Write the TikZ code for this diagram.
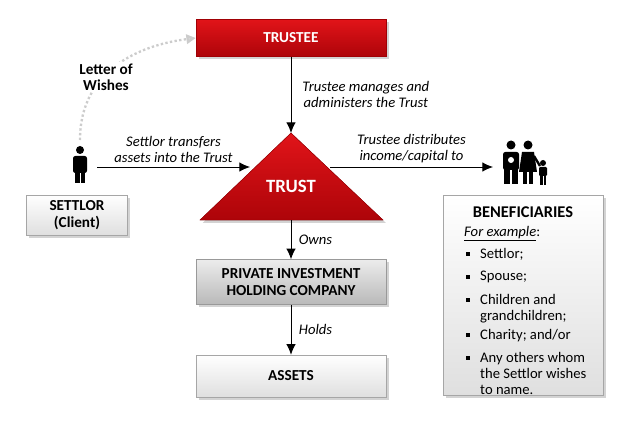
\documentclass[tikz,border=0pt]{standalone}
\usepackage{fontspec}
\setmainfont{Carlito}
\usetikzlibrary{shadows,arrows.meta}
\definecolor{trustred}{RGB}{225,20,25}
\definecolor{darkred}{RGB}{160,0,5}
\begin{document}
\begin{tikzpicture}[x=0.03cm,y=-0.03cm,
  redbox/.style={draw=darkred, top color=trustred, bottom color=darkred!80!trustred, drop shadow={opacity=0.35}},
  greybox/.style={draw=gray!70, top color=white, bottom color=gray!25, drop shadow={opacity=0.35}},
  link/.style={-{Latex[length=9pt,width=8pt]}, thick},
  lbl/.style={font=\fontsize{12.5}{13.5}\selectfont\itshape, align=center},
  title/.style={font=\fontsize{13}{14}\selectfont\bfseries, align=center},
  item/.style={font=\fontsize{12.5}{13.5}\selectfont, anchor=north west, align=left, inner sep=0pt}]
  \useasboundingbox (0,0) rectangle (624,427);
  % boxes
  \node[redbox, minimum width=190*0.03cm, minimum height=37*0.03cm, title, text=white] (trustee) at (291,38) {TRUSTEE};
  \filldraw[draw=darkred, top color=trustred, bottom color=darkred!80!trustred, drop shadow={opacity=0.35}] (291,133) -- (383,220) -- (200,220) -- cycle;
  \node[title, text=white, font=\fontsize{16}{17}\selectfont\bfseries] (trust) at (291,186) {TRUST};
  \coordinate (trusttop) at (291,133);
  \coordinate (trustbot) at (291,220);
  \coordinate (trustleft) at (250,167);
  \coordinate (trustright) at (330,167);
  \node[greybox, minimum width=101*0.03cm, minimum height=40*0.03cm, title] (settlor) at (77,215) {SETTLOR\\(Client)};
  \node[draw=gray!80, top color=gray!15, bottom color=gray!55, drop shadow={opacity=0.35}, minimum width=190*0.03cm, minimum height=45*0.03cm, title] (pihc) at (291,282) {PRIVATE INVESTMENT\\HOLDING COMPANY};
  \node[greybox, minimum width=190*0.03cm, minimum height=42*0.03cm, title] (assets) at (291,376) {ASSETS};
  \node[greybox, minimum width=160*0.03cm, minimum height=200*0.03cm] (benef) at (523,295) {};
  % beneficiaries text
  \node[title, font=\fontsize{14}{15}\selectfont\bfseries] (btitle) at (523,212) {BENEFICIARIES};
  \node[item] (ex) at (464,226) {\underline{\itshape For example}:};
  \foreach \y/\t in {248/{Settlor;}, 271/{Spouse;}, 294/{Children and\\grandchildren;}, 329/{Charity; and/or}, 352/{Any others whom\\the Settlor wishes\\to name.}} {
    \fill (466,\y+4) rectangle (470,\y+8);
    \node[item] at (480,\y) {\t};
  }
  % settlor icon
  \fill (80,150) circle (4);
  \fill[rounded corners=2pt] (73,156) rectangle (87,173);
  \fill (75,170) rectangle (79.5,183);
  \fill (80.5,170) rectangle (85,183);
  \coordinate (settlorico) at (97,167);
  \coordinate (lowstart) at (80,140);
  % family icon
  \fill (511,145) circle (4.5);
  \fill[rounded corners=2pt] (503,152) rectangle (519,170);
  \fill (504,168) rectangle (510,184);
  \fill (512,168) rectangle (518,184);
  \fill[white] (511,160) circle (3);
  \fill (528,145) circle (4.5);
  \fill (522,152) -- (534,152) -- (537,172) -- (519,172) -- cycle;
  \fill (523,170) rectangle (527,184);
  \fill (529,170) rectangle (533,184);
  \draw[line width=2pt] (534,156) -- (540,166);
  \fill (543,163) circle (3);
  \fill[rounded corners=1pt] (539,167) rectangle (547,176);
  \fill (540,175) rectangle (542.5,185);
  \fill (543.5,175) rectangle (546,185);
  \coordinate (family) at (493,167);
  % connectors
  \draw[link] (trustee) -- (trusttop) node[lbl, midway, anchor=west, xshift=6pt] {Trustee manages and\\administers the Trust};
  \draw[link] (settlorico) -- (trustleft) node[lbl, midway, above] {Settlor transfers\\assets into the Trust};
  \draw[link] (trustright) -- (family) node[lbl, midway, above] {Trustee distributes\\income/capital to};
  \draw[link] (trustbot) -- (pihc) node[lbl, midway, anchor=west, xshift=3pt] {Owns};
  \draw[link] (pihc) -- (assets) node[lbl, midway, anchor=west, xshift=3pt] {Holds};
  \draw[gray!40, line width=2pt, dotted, -{Triangle[length=8pt,width=8pt,fill=gray!30]}] (lowstart) .. controls (80,70) and (140,45) .. (trustee.west);
  \node[title, fill=white, inner sep=1pt] (letter) at (106,77) {Letter of\\Wishes};
\end{tikzpicture}
\end{document}
